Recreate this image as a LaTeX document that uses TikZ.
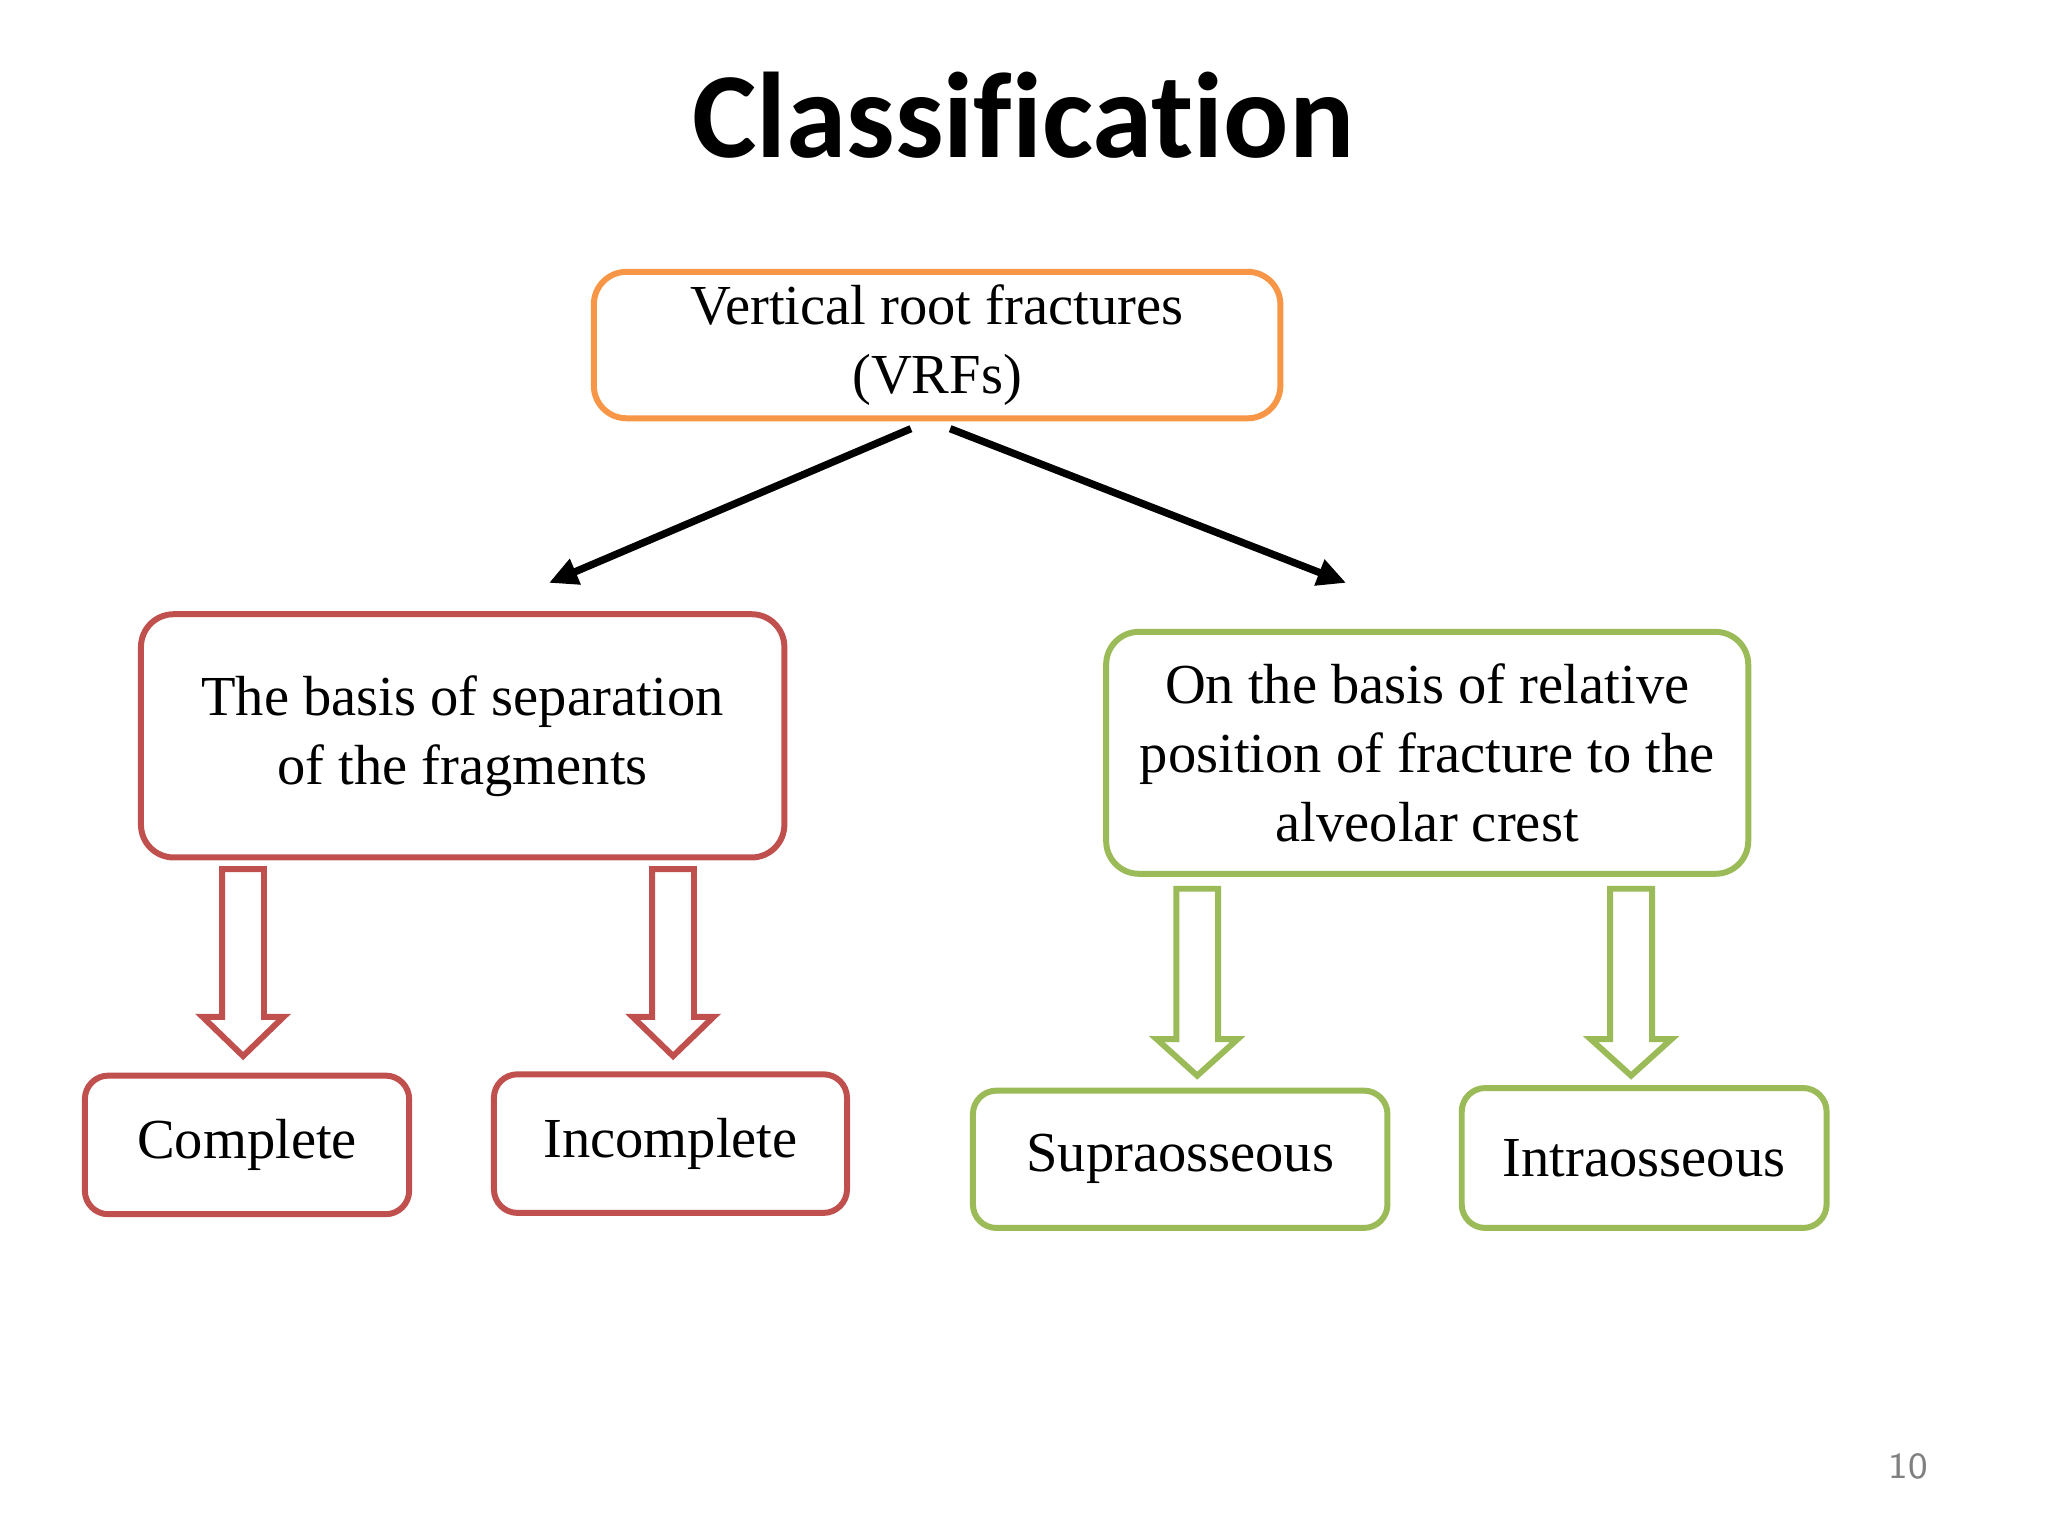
\documentclass[tikz,border=0pt]{standalone}
\usepackage{fontspec}
\setmainfont{Liberation Serif}
\newfontfamily\titlefont[Ligatures=NoCommon]{Carlito}
\usetikzlibrary{arrows.meta}
\definecolor{cor}{HTML}{F79646}
\definecolor{cred}{HTML}{C0504D}
\definecolor{cgr}{HTML}{9BBB59}
\begin{document}
\begin{tikzpicture}[x=0.01cm,y=-0.01cm,
  box/.style={draw=#1,line width=1.3pt,rounded corners=0.25cm,fill=white,align=center,font=\fontsize{12.3}{15}\selectfont,inner sep=0pt},
  arr/.style={-{Triangle[length=0.22cm,width=0.2cm]},line width=1.6pt},
  blk/.style={draw=#1,line width=1.3pt,fill=white}]
\useasboundingbox (0,0) rectangle (1567,1175);
\node[font=\titlefont\bfseries\fontsize{26.5}{30}\selectfont] (title) at (783,88) {Classification};
\node[box=cor,minimum width=5.25cm,minimum height=1.12cm] (top) at (717,264) {Vertical root fractures\\(VRFs)};
\node[box=cred,minimum width=4.92cm,minimum height=1.86cm] (L) at (354,563) {The basis of separation\\of the fragments};
\node[box=cgr,minimum width=4.91cm,minimum height=1.85cm] (R) at (1092,576) {On the basis of relative\\position of fracture to the\\alveolar crest};
\node[box=cred,minimum width=2.48cm,minimum height=1.06cm,rounded corners=0.18cm] (c) at (189,876) {Complete};
\node[box=cred,minimum width=2.70cm,minimum height=1.06cm,rounded corners=0.18cm] (i) at (513,875) {Incomplete};
\node[box=cgr,minimum width=3.17cm,minimum height=1.05cm,rounded corners=0.18cm] (s) at (903,887) {Supraosseous};
\node[box=cgr,minimum width=2.79cm,minimum height=1.07cm,rounded corners=0.18cm] (n) at (1258,886) {Intraosseous};
\node[text=gray,font=\sffamily\fontsize{8}{10}\selectfont] (pg) at (1460,1122) {10};
\coordinate (a1) at (697,328); \coordinate (a1e) at (420,446);
\coordinate (a2) at (727,328); \coordinate (a2e) at (1030,446);
\draw[arr] (a1) -- (a1e);
\draw[arr] (a2) -- (a2e);
\foreach \cx/\t/\h/\b/\col in {186/665/778/808/cred,515/665/778/808/cred,916/680/795/823/cgr,1248/680/795/823/cgr}{
  \draw[blk=\col] (\cx-16,\t) -- (\cx+16,\t) -- (\cx+16,\h) -- (\cx+31,\h) -- (\cx,\b) -- (\cx-31,\h) -- (\cx-16,\h) -- cycle;
}
\end{tikzpicture}
\end{document}
